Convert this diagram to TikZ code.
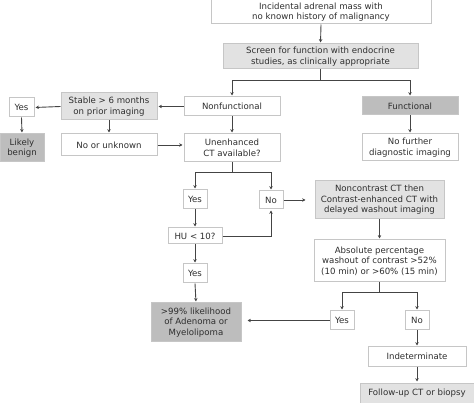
\documentclass[tikz,border=0pt]{standalone}
\usepackage{fontspec}
\setmainfont{DejaVu Sans}
\usetikzlibrary{arrows.meta}
\definecolor{bord}{HTML}{C6C6C6}
\definecolor{lightfill}{HTML}{E2E2E2}
\definecolor{darkfill}{HTML}{BDBDBD}
\definecolor{txt}{HTML}{2E2E2E}
\definecolor{lin}{HTML}{444444}
\begin{document}
\begin{tikzpicture}[x=1pt,y=-1pt,
  box/.style={draw=bord,line width=1pt,fill=white,inner sep=0pt,align=center,text=txt,
    font=\fontsize{8.6}{10.5}\selectfont},
  lbox/.style={box,fill=lightfill},
  dbox/.style={box,fill=darkfill},
  arr/.style={draw=lin,line width=0.9pt,-{Stealth[length=3.4pt,width=3.4pt]},shorten >=1pt},
  ln/.style={draw=lin,line width=0.9pt}]
\useasboundingbox (0,0) rectangle (474,403);
\newcommand{\bx}[6]{\node[#1,minimum width=#4,minimum height=#5] (#2) at (#3) {#6};}
\bx{box}{top}{321,12}{220}{24}{Incidental adrenal mass with\\no known history of malignancy}
\bx{lbox}{screen}{320.5,56.5}{195}{25}{Screen for function with endocrine\\studies, as clinically appropriate}
\bx{box}{nonf}{232,106.5}{96}{19}{Nonfunctional}
\bx{dbox}{func}{410,106}{96}{18}{Functional}
\bx{lbox}{stable}{109,106.5}{96}{27}{Stable > 6 months\\on prior imaging}
\bx{box}{yesa}{21.5,107.5}{25}{19}{Yes}
\bx{dbox}{likely}{22,148}{44}{28}{Likely\\benign}
\bx{box}{nounk}{109,145}{96}{22}{No or unknown}
\bx{box}{unenh}{232,148}{96}{28}{Unenhanced\\CT available?}
\bx{box}{nofur}{410,147.5}{96}{27}{No further\\diagnostic imaging}
\bx{box}{yesb}{195,199.5}{24}{19}{Yes}
\bx{box}{nob}{271,200}{24}{18}{No}
\bx{lbox}{noncon}{379.5,200}{129}{38}{Noncontrast CT then\\Contrast-enhanced CT with\\delayed washout imaging}
\bx{box}{hu}{195,236}{54}{16}{HU < 10?}
\bx{box}{yesc}{195,273.5}{24}{19}{Yes}
\bx{dbox}{adeno}{196,322.5}{90}{39}{>99\% likelihood\\of Adenoma or\\Myelolipoma}
\bx{box}{absol}{379.5,261}{131}{42}{Absolute percentage\\washout of contrast >52\%\\(10 min) or >60\% (15 min)}
\bx{box}{yesd}{342,320.5}{24}{19}{Yes}
\bx{box}{nod}{417,320.5}{24}{19}{No}
\bx{box}{indet}{417,356.5}{98}{19}{Indeterminate}
\bx{lbox}{follow}{417,393}{114}{20}{Follow-up CT or biopsy}

\draw[arr] (top.south) -- (screen.north);
\draw[arr] (screen.south) -- ++(0,11) -| (nonf.north);
\draw[arr] (screen.south) -- ++(0,11) -| (func.north);
\draw[arr] (nonf.west) -- (stable.east);
\draw[arr] (stable.west) -- (yesa.east);
\draw[arr] (yesa.south) -- (likely.north);
\draw[arr] (stable.south) -- (nounk.north);
\draw[arr] (nounk.east) -- (nounk.east -| unenh.west);
\draw[arr] (nonf.south) -- (unenh.north);
\draw[arr] (func.south) -- (nofur.north);
\draw[arr] (unenh.south) -- ++(0,10) -| (yesb.north);
\draw[arr] (unenh.south) -- ++(0,10) -| (nob.north);
\draw[arr,shorten >=9pt] (nob.east) -- (nob.east -| noncon.west);
\draw[arr] (yesb.south) -- (hu.north);
\draw[arr] (hu.east) -| (nob.south);
\draw[arr] (hu.south) -- (yesc.north);
\draw[arr] (yesc.south) -- (adeno.north);
\draw[arr] (noncon.south) -- (absol.north);
\draw[arr] (absol.south) -- ++(0,10) -| (yesd.north);
\draw[arr] (absol.south) -- ++(0,10) -| (nod.north);
\draw[arr,shorten >=6pt] (yesd.west) -- (yesd.west -| adeno.east);
\draw[arr] (nod.south) -- (indet.north);
\draw[arr] (indet.south) -- (follow.north);
\end{tikzpicture}
\end{document}
